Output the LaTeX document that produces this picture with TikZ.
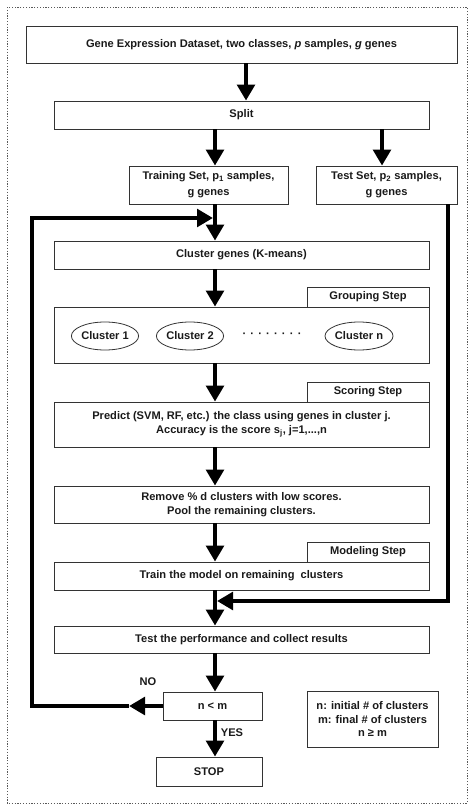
\documentclass[tikz,border=0pt]{standalone}
\usepackage{fontspec}
\setmainfont{Liberation Sans}
\usetikzlibrary{arrows.meta,shapes.geometric}
\definecolor{ink}{HTML}{1A1A1A}
\definecolor{edge}{HTML}{333333}
\begin{document}
\begin{tikzpicture}[x=1pt,y=-1pt,
  txt/.style={font=\bfseries\fontsize{11.1}{13.8}\selectfont, text=ink},
  box/.style={txt, draw=edge, line width=0.8pt, fill=white, inner sep=0pt, align=center},
  tab/.style={box, minimum width=122pt, minimum height=20pt},
  wide/.style={box, minimum width=375pt},
  oval/.style={txt, draw=edge, line width=0.8pt, ellipse, inner sep=0pt, minimum width=66pt, minimum height=28pt},
  arr/.style={line width=4pt, draw=black, line join=miter, -{Triangle[width=17.5pt,length=16pt]}},
  lbl/.style={txt, inner sep=0pt}
]
\useasboundingbox (0,0) rectangle (474,811);
\draw[black!65, line width=0.7pt, dash pattern=on 1.2pt off 1.6pt] (7,7) rectangle (467,803);

% columns
\coordinate (colA) at (215,0);
\coordinate (colG) at (246,0);
\coordinate (colT) at (382,0);
\coordinate (colL) at (32,0);
\coordinate (colR) at (448,0);

\node[box, minimum width=431pt, minimum height=37pt] (gene) at (241.5,44.5)
  {Gene Expression Dataset, two classes, \textit{p} samples, \textit{g} genes};
\node[wide, minimum height=28pt] (split) at (241.5,115) {Split};
\node[box, minimum width=159pt, minimum height=38pt, font=\bfseries\fontsize{11.1}{16}\selectfont] (train) at (208.5,185)
  {Training Set, p\textsubscript{1} samples,\\ g genes};
\node[box, minimum width=141pt, minimum height=38pt, font=\bfseries\fontsize{11.1}{16}\selectfont] (test) at (386.5,185)
  {Test Set, p\textsubscript{2} samples,\\ g genes};
\node[wide, minimum height=28pt] (clust) at (241.5,255) {Cluster genes (K-means)};

\node[tab] (gtab) at (368,297) {Grouping Step};
\node[wide, minimum height=56pt] (group) at (241.5,335) {};
\node[oval] (c1) at (105,336) {Cluster 1};
\node[oval] (c2) at (190,336) {Cluster 2};
\node[lbl] (dots) at (272,335)
  {·\hspace{4.2pt}·\hspace{4.2pt}·\hspace{4.2pt}·\hspace{4.2pt}·\hspace{4.2pt}·\hspace{4.2pt}·\hspace{4.2pt}·};
\node[oval] (cn) at (359,336) {Cluster n};

\node[tab] (stab) at (368,392) {Scoring Step};
\node[wide, minimum height=45pt] (score) at (241.5,424.5)
  {Predict (SVM, RF, etc.) the class using genes in cluster j.\\ Accuracy is the score s\textsubscript{j}, j=1,...,n};
\node[wide, minimum height=37pt] (remove) at (241.5,504.5)
  {Remove \% d clusters with low scores.\\ Pool the remaining clusters.};
\node[tab] (mtab) at (368,552) {Modeling Step};
\node[wide, minimum height=28pt] (trainm) at (241.5,576) {Train the model on remaining\ \ clusters};
\node[wide, minimum height=27pt] (perf) at (241.5,639.5) {Test the performance and collect results};
\node[box, minimum width=99pt, minimum height=28pt] (cond) at (212.5,706) {n < m};
\node[box, minimum width=106pt, minimum height=29pt] (stop) at (209,771.5) {STOP};
\node[box, minimum width=131pt, minimum height=56pt] (legend) at (372.5,719)
  {n: initial \# of clusters\\ m: final \# of clusters\\ n ≥ m};
\node[lbl] (no) at (148,682) {NO};
\node[lbl] (yes) at (232,733) {YES};

% junction coordinates
\coordinate (j1) at (213,218);
\coordinate (j2) at (217,601);
\coordinate (noTip) at (129,706);

% main arrows
\draw[arr] (colG |- gene.south) -- (colG |- split.north);
\draw[arr] (colA |- split.south) -- (colA |- train.north);
\draw[arr] (colT |- split.south) -- (colT |- test.north);
\draw[arr] (colA |- train.south) -- (colA |- clust.north);
\draw[arr] (colA |- clust.south) -- (colA |- group.north);
\draw[arr] (colA |- group.south) -- (colA |- score.north);
\draw[arr] (colA |- score.south) -- (colA |- remove.north);
\draw[arr] (colA |- remove.south) -- (colA |- trainm.north);
\draw[arr] (colA |- trainm.south) -- (colA |- perf.north);
\draw[arr] (colA |- perf.south) -- (colA |- cond.north);
\draw[arr] (colA |- cond.south) -- (colA |- stop.north);

% test set feed
\draw[arr] (colR |- test.south) -- (colR |- j2) -- (j2);

% loop back
\draw[arr] (cond.west) -- (noTip);
\draw[arr] (noTip) -- (colL |- noTip) -- (colL |- j1) -- (j1);
\end{tikzpicture}
\end{document}
